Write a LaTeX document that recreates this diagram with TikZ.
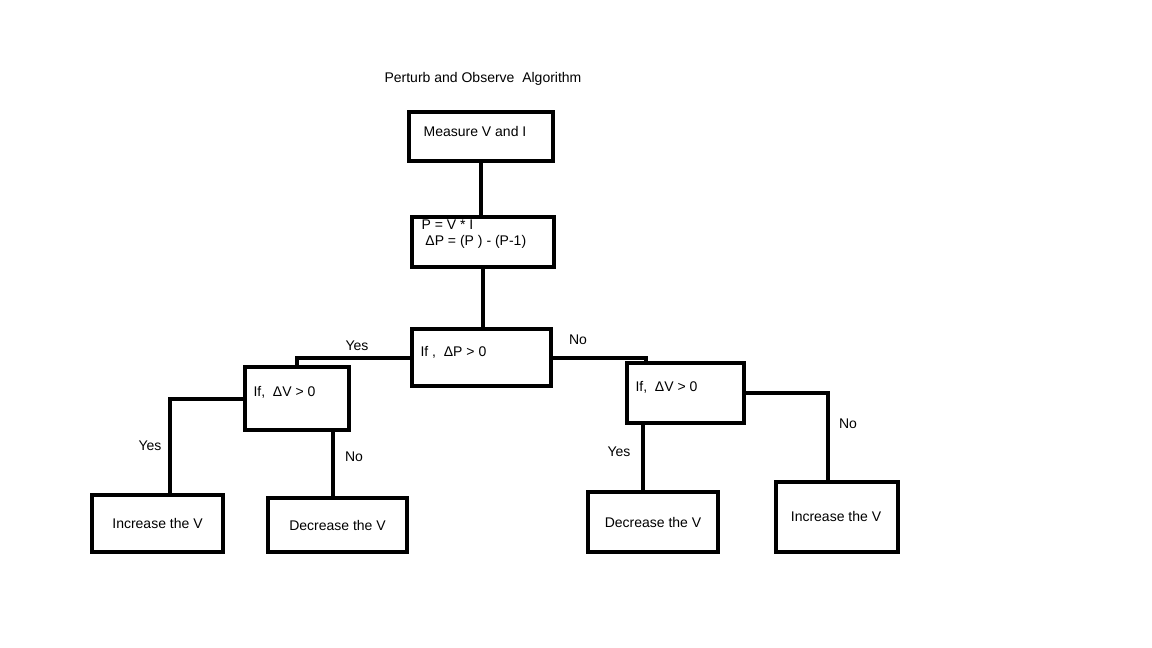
\documentclass[tikz,border=0pt]{standalone}
\usepackage{fontspec}
\setmainfont{Liberation Sans}
\begin{document}
\begin{tikzpicture}[x=1pt,y=-1pt,
  box/.style={draw,line width=4pt,inner sep=0pt,font=\fontsize{14}{16}\selectfont,anchor=north west},
  lbl/.style={font=\fontsize{14}{16}\selectfont},
  conn/.style={line width=4pt}]
\useasboundingbox (0,0) rectangle (1152,648);
\node[lbl] (title) at (483,79) {Perturb and Observe\ \ Algorithm};
\node[box,minimum width=144,minimum height=49] (b1) at (407,110) {};
\node[lbl] at (475,131) {Measure V and I};
\node[box,minimum width=142,minimum height=50] (b2) at (410,215) {};
\node[lbl,align=left,anchor=north west] at (418,216) {P = V * I\\ \ ΔP = (P ) - (P-1)};
\node[box,minimum width=139,minimum height=57] (b3) at (410,327) {};
\node[lbl,anchor=west] at (417,352) {If ,\ \ ΔP > 0};
\node[box,minimum width=104,minimum height=63] (b4) at (243,365) {};
\node[lbl,anchor=west] at (250,392) {If,\ \ ΔV > 0};
\node[box,minimum width=131,minimum height=57] (b5) at (90,493) {Increase the V};
\node[box,minimum width=139,minimum height=54] (b6) at (266,496) {Decrease the V};
\node[box,minimum width=117,minimum height=60] (b7) at (625,361) {};
\node[lbl,anchor=west] at (632,387) {If,\ \ ΔV > 0};
\node[box,minimum width=130,minimum height=60] (b8) at (586,490) {Decrease the V};
\node[box,minimum width=122,minimum height=70] (b9) at (774,480) {};
\node[lbl] at (836,516) {Increase the V};
\draw[conn] (b1.south) -- (b1.south |- b2.north);
\draw[conn] (b2.south) -- (b2.south |- b3.north);
\draw[conn] (b3.west) -| (b4.north);
\draw[conn] (b4.west) -| ([xshift=12]b5.north);
\draw[conn] ([xshift=36]b4.south) -- ([xshift=36]b4.south |- b6.north);
\draw[conn] (b3.east) -| ([xshift=-40]b7.north);
\draw[conn] ([xshift=-43]b7.south) -- ([xshift=-43]b7.south |- b8.north);
\draw[conn] (b7.east) -| ([xshift=-9]b9.north);
\node[lbl] (y1) at (357,346) {Yes};
\node[lbl] (y2) at (150,446) {Yes};
\node[lbl] (n1) at (354,457) {No};
\node[lbl] (n2) at (578,340) {No};
\node[lbl] (y3) at (619,452) {Yes};
\node[lbl] (n3) at (848,424) {No};
\end{tikzpicture}
\end{document}
